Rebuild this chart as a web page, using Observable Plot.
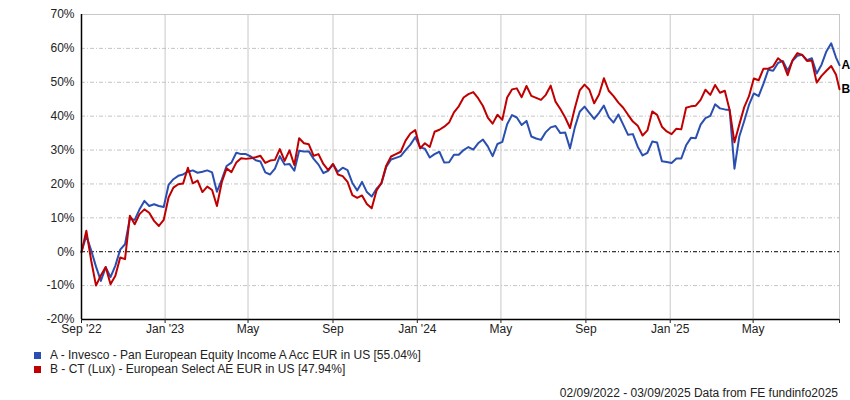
<!DOCTYPE html>
<html>
<head>
<meta charset="utf-8">
<script src="https://cdn.jsdelivr.net/npm/d3@7"></script>
<script src="https://cdn.jsdelivr.net/npm/@observablehq/plot@0.6"></script>
<style>
  html, body { margin: 0; padding: 0; background: #fff; }
  #wrap { position: relative; width: 850px; height: 400px; font-family: "Liberation Sans", Arial, sans-serif; font-size: 12px; color: #222; }
  .leg { position: absolute; left: 34px; line-height: 14px; white-space: nowrap; }
  .leg span.sw { display: inline-block; width: 7px; height: 7px; margin-right: 9px; vertical-align: 0px; }
  #foot { position: absolute; right: 12px; top: 386px; white-space: nowrap; }
</style>
</head>
<body>
<div id="wrap"></div>
<script>
// ---- data (weekly readings, % growth) ----
const startDate = "2022-09-02";
const endDate = "2025-09-03";
const seriesNames = [
  "A - Invesco - Pan European Equity Income A Acc EUR in US",
  "B - CT (Lux) - European Select AE EUR in US"
];
const finalValues = [55.04, 47.94];
const seriesColors = ["#2a4fb0", "#c00000"];

const valuesA = [
  0, 4.7, 0.4, -4.4, -8.6, -4.6, -7.5, -4.1, 0.6, 2.2,
  9.8, 9.4, 12.5, 15, 13.5, 14, 13.5, 13.2, 19.7, 21.4,
  22.4, 22.8, 23.6, 24, 23.3, 23.6, 24, 23.4, 17.7, 21.3,
  25.3, 26.3, 29.2, 28.8, 28.8, 28.1, 27, 26.6, 23.4, 22.8,
  24.5, 28.2, 25.7, 25.9, 23.9, 29.8, 29.6, 29.6, 27.4, 25.7,
  23.2, 23.9, 25.8, 23.6, 24.8, 24.1, 20.3, 18.1, 20.6, 17.6,
  16.3, 18.6, 20.1, 25, 27.2, 27.7, 28.2, 30, 31.6, 33.8,
  30.8, 30.4, 27.8, 28.8, 29.5, 26.3, 26.4, 28.6, 28.6, 30,
  30.9, 30.1, 32, 33.1, 31.1, 28.2, 31.8, 32.4, 37.6, 40.3,
  39.6, 37.4, 38.6, 34, 33.4, 33, 35.3, 36.7, 37.1, 35,
  35.2, 30.5, 36.7, 41.3, 42.8, 41, 39.2, 41, 43.1, 39.7,
  38.1, 40.5, 37.5, 34.5, 34.7, 31, 28.4, 29.2, 32.5, 32.2,
  26.7, 26.5, 26.2, 27.5, 27.5, 31.4, 33.6, 33.5, 37.5, 39.4,
  40.1, 43.5, 42.3, 42, 41.8, 24.5, 34, 38.5, 43.3, 46.7,
  45.9, 49.6, 53.7, 53.4, 55.7, 56.3, 53.4, 56.3, 57.8, 58.1,
  56.5, 57.1, 52.6, 55.2, 59.1, 61.5, 57.3
];
const valuesB = [
  -0.2, 6.2, -2.6, -10, -7, -4.5, -9.6, -7.1, -1.7, -2.2,
  10.6, 8.1, 11.1, 12.5, 11.5, 9.1, 7.6, 9.4, 16, 18.9,
  19.9, 20.1, 24.8, 20.2, 21, 17.6, 19.2, 18.2, 13.5, 20.5,
  24.6, 23.5, 26.3, 27.6, 27.4, 27.6, 27.9, 28.3, 26.2, 26.9,
  27.1, 30.3, 26.8, 29.9, 25.6, 33.5, 32, 31.7, 28.3, 28.8,
  25.9, 24.1, 25.9, 22.8, 22.3, 20.6, 16.7, 15.9, 16.6, 14.1,
  12.8, 18.1, 20.3, 25.4, 28.1, 28.8, 29.5, 32.8, 34.9, 35.9,
  30.5, 32, 30.9, 35.4, 36, 36.9, 38.1, 41.1, 42.9, 45.5,
  46.5, 47.1, 45.3, 43, 39.6, 37.8, 40.4, 38.9, 45.5, 47.9,
  48.2, 45.6, 48.9, 46, 45.4, 44.8, 46.3, 49, 44.3, 42.1,
  39.6, 36.5, 42.4, 47.6, 49.3, 47.8, 43.8, 46.4, 51.2, 47.5,
  45.9, 44, 42.5, 40.4, 38.4, 37.2, 34.3, 35.8, 41.4, 40.4,
  36.9, 35.5, 34.7, 36.3, 36.1, 42.5, 42.9, 43.1, 44.8, 47.8,
  46.3, 49.2, 46.9, 47.5, 41.8, 32.3, 37.5, 42.6, 45.9, 51.1,
  50.6, 54, 54, 54.7, 57.1, 55.9, 52.1, 56.5, 58.6, 58.1,
  56.3, 56.4, 49.9, 51.9, 53.4, 54.8, 52.2
];

const yTicks = [-20, -10, 0, 10, 20, 30, 40, 50, 60, 70];
const xTickDates = ["2022-09-02", "2023-01-01", "2023-05-01", "2023-09-01", "2024-01-01", "2024-05-01", "2024-09-01", "2025-01-01", "2025-05-01", "2025-09-03"];
const xTickLabels = ["Sep '22", "Jan '23", "May", "Sep", "Jan '24", "May", "Sep", "Jan '25", "May", ""];

// ---- build tables ----
const t0 = new Date(startDate);
const tEnd = new Date(endDate);
function build(vals, fin, name) {
  const rows = vals.map((v, i) => ({date: d3.utcDay.offset(t0, 7 * i), value: v, name}));
  rows.push({date: tEnd, value: fin, name});
  return rows;
}
const dataA = build(valuesA, finalValues[0], "A");
const dataB = build(valuesB, finalValues[1], "B");
const tickDates = xTickDates.map(d => new Date(d));
const labelMap = new Map(tickDates.map((d, i) => [+d, xTickLabels[i]]));
const endLabels = [
  {date: tEnd, value: finalValues[0], label: "A"},
  {date: tEnd, value: finalValues[1], label: "B"}
];

const chart = Plot.plot({
  width: 850,
  height: 340,
  marginLeft: 81,
  marginRight: 11,
  marginTop: 14,
  marginBottom: 21,
  style: {fontFamily: "'Liberation Sans', Arial, sans-serif", fontSize: "12px", color: "#222", background: "#fff", overflow: "visible"},
  x: {type: "utc", domain: [t0, tEnd], label: null},
  y: {domain: [-20, 70], label: null},
  marks: [
    Plot.ruleX(tickDates.slice(1, -1), {stroke: "#c8c8c8", strokeWidth: 1}),
    Plot.ruleY(yTicks.filter(v => v !== 0 && v !== -20 && v !== 70), {stroke: "#c4c4c4", strokeDasharray: "4,2,1,2"}),
    Plot.ruleY([70], {stroke: "#c8c8c8"}),
    Plot.ruleX([tEnd], {stroke: "#c8c8c8"}),
    Plot.ruleY([0], {stroke: "#000", strokeDasharray: "4,2,1,2"}),
    Plot.line(dataA, {x: "date", y: "value", stroke: seriesColors[0], strokeWidth: 2}),
    Plot.line(dataB, {x: "date", y: "value", stroke: seriesColors[1], strokeWidth: 2}),
    Plot.ruleX([t0], {stroke: "#000", strokeWidth: 1.5}),
    Plot.ruleY([-20], {stroke: "#000", strokeWidth: 1.5}),
    Plot.axisY({ticks: yTicks, tickFormat: d => d + "%", tickSize: 0, tickPadding: 7, fill: "#222", label: null}),
    Plot.axisX({ticks: tickDates, tickFormat: d => labelMap.get(+d), tickSize: 4, tickPadding: 1, fill: "#222", label: null}),
    Plot.text(endLabels, {x: "date", y: "value", text: "label", textAnchor: "start", dx: 2, fontWeight: "bold", fontSize: 12, fill: "#000"})
  ]
});

const wrap = document.getElementById("wrap");
wrap.appendChild(chart);

seriesNames.forEach((n, i) => {
  const div = document.createElement("div");
  div.className = "leg";
  div.style.top = (348 + 14 * i) + "px";
  const sw = document.createElement("span");
  sw.className = "sw";
  sw.style.background = seriesColors[i];
  div.appendChild(sw);
  div.appendChild(document.createTextNode(`${n} [${finalValues[i].toFixed(2)}%]`));
  wrap.appendChild(div);
});
const foot = document.createElement("div");
foot.id = "foot";
foot.textContent = `${d3.utcFormat("%d/%m/%Y")(t0)} - ${d3.utcFormat("%d/%m/%Y")(tEnd)} Data from FE fundinfo2025`;
wrap.appendChild(foot);
</script>
</body>
</html>
